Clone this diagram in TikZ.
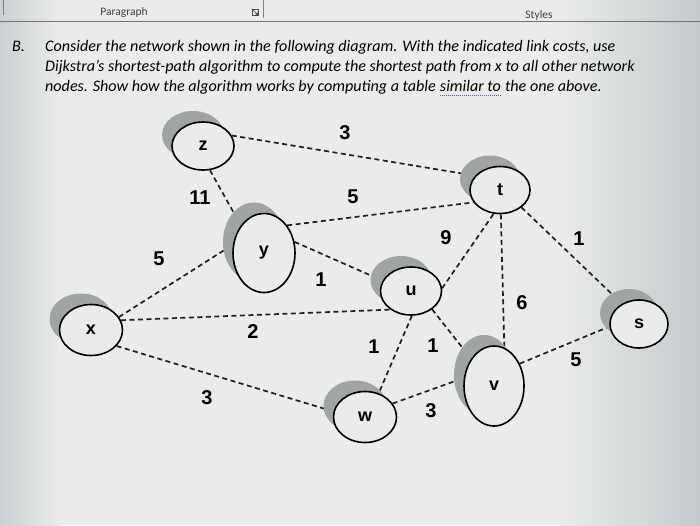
\documentclass[tikz,border=0pt]{standalone}
\usepackage{fontspec}
\setmainfont{Carlito}
\newfontfamily\arialb{Liberation Sans}
\usetikzlibrary{shapes.geometric,shadows}
\pgfdeclarelayer{bg}
\pgfdeclarelayer{edges}
\pgfsetlayers{bg,edges,main}
\definecolor{bgc}{RGB}{233,236,234}
\definecolor{bgdark}{RGB}{196,201,204}
\definecolor{bgleft}{RGB}{205,208,210}
\definecolor{shad}{RGB}{160,164,164}
\definecolor{dotc}{RGB}{90,100,140}
\begin{document}
\begin{tikzpicture}[x=1pt,y=-1pt,
  nd/.style={ellipse, draw=black, line width=1.6pt, fill=bgc, inner sep=0pt,
    font=\arialb\bfseries\fontsize{18}{18}\selectfont,
    drop shadow={shadow xshift=-10pt, shadow yshift=11pt, fill=shad, opacity=1}},
  small/.style={nd, minimum width=62pt, minimum height=48pt},
  tall/.style={nd, minimum width=62pt, minimum height=79pt},
  edge/.style={draw=black!88, line width=1.7pt, dash pattern=on 5pt off 3.5pt},
  lbl/.style={font=\arialb\bfseries\fontsize{20}{20}\selectfont, inner sep=0pt},
  para/.style={font=\itshape\fontsize{16.1}{19}\selectfont, inner sep=0pt, anchor=base west, text=black},
  hdr/.style={font=\fontsize{11.5}{13}\selectfont, inner sep=0pt, text=black!75}
]
\useasboundingbox (0,0) rectangle (700,525);
\begin{pgfonlayer}{bg}
  \fill[bgc] (0,0) rectangle (700,525);
  \shade[left color=bgc, right color=bgdark] (560,0) rectangle (700,525);
  \shade[left color=bgleft, right color=bgc] (0,0) rectangle (60,525);
\end{pgfonlayer}

% header
\draw[black!55, line width=0.8pt] (0,21) -- (700,21);
\draw[black!50, line width=0.6pt] (3,0) -- (3,15);
\draw[black!50, line width=0.6pt] (263,0) -- (263,18);
\node[hdr] (hpar) at (124,12) {Paragraph};
\node[hdr] (hsty) at (539,15) {Styles};
\node[draw=black!70, line width=0.5pt, minimum size=6pt, inner sep=0pt] (hicon) at (255,12) {};
\draw[black!75, line width=0.6pt, ->, >=stealth] (hicon.north west) -- (hicon.south east);

% text
\node[para] (tb) at (12,51) {B.};
\node[para] (t1) at (45,51) {Consider the network shown in the following diagram. With the indicated link costs, use};
\node[para] (t2) at (45,71) {Dijkstra's shortest-path algorithm to compute the shortest path from x to all other network};
\node[para] (t3a) at (45,91) {nodes. Show how the algorithm works by computing a table};
\node[para] (t3b) at ([xshift=3.7pt]t3a.base east) {similar to};
\node[para] (t3c) at ([xshift=3.7pt]t3b.base east) {the one above.};
\draw[dotc, line width=1pt, dash pattern=on 1pt off 1pt] ([yshift=-4pt]t3b.base west) -- ([yshift=-4pt]t3b.base east);

% nodes
\node[small] (z) at (203,146) {z};
\node[tall]  (y) at (264,253) {y};
\node[small, minimum width=60pt, minimum height=47pt] (t) at (500,190) {t};
\node[small, minimum width=61pt] (u) at (411,291) {u};
\node[small, minimum width=58pt] (s) at (639,324) {s};
\node[tall, minimum width=60pt, minimum height=80pt] (v) at (494,386) {v};
\node[small, minimum width=63pt, minimum height=51pt] (w) at (365,417) {w};
\node[small, minimum width=63pt, minimum height=51pt] (x) at (91,330) {x};

% edges
\begin{pgfonlayer}{edges}
  \draw[edge] (z.20) -- (t.150);
  \draw[edge] (z.-74) -- (y.130);
  \draw[edge] (y.50) -- (t.205);
  \draw[edge] (x.25) -- (y.165);
  \draw[edge] (x.18) -- (u.222);
  \draw[edge] (y.20) -- (u.160);
  \draw[edge] (u.5) -- (t.-105);
  \draw[edge] (t.-88) -- (v.75);
  \draw[edge] (t.-39) -- (s.130);
  \draw[edge] (u.-88) -- (w.60);
  \draw[edge] (u.-41) -- (v.130);
  \draw[edge] (w.26) -- (v.165);
  \draw[edge] (v.41) -- (s.185);
  \draw[edge] (x.-32) -- (w.170);
\end{pgfonlayer}

% edge labels
\node[lbl] (lzt) at (345,133) {3};
\node[lbl] (lzy) at (200,198) {11};
\node[lbl] (lyt) at (353,197) {5};
\node[lbl] (lxy) at (159,259) {5};
\node[lbl] (lyu) at (321,280) {1};
\node[lbl] (lut) at (446,238) {9};
\node[lbl] (ltv) at (522,303) {6};
\node[lbl] (lts) at (579,239) {1};
\node[lbl] (lxu) at (253,332) {2};
\node[lbl] (luw) at (374,347) {1};
\node[lbl] (luv) at (433,346) {1};
\node[lbl] (lwv) at (431,411) {3};
\node[lbl] (lvs) at (576,360) {5};
\node[lbl] (lxw) at (207,398) {3};
\end{tikzpicture}
\end{document}
